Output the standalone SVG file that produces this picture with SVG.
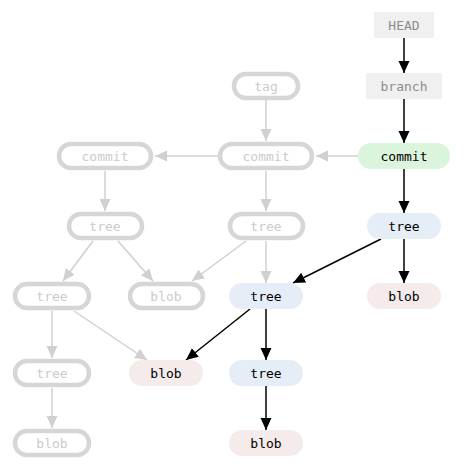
<svg xmlns="http://www.w3.org/2000/svg" width="464" height="472" viewBox="0 0 464 472">
<defs>
<style>
text{font-family:"DejaVu Sans Mono","Liberation Mono",monospace;font-size:13px;text-anchor:middle;dominant-baseline:central}
.g rect{fill:#fff;stroke:#d6d6d6;stroke-width:4.5}
.g text{fill:#cbcbcb}
.ref rect{fill:#f0f0f0}
.ref text{fill:#8c8c8c}
.cm rect{fill:#dbf5dc}
.tr rect{fill:#e5edf7}
.bl rect{fill:#f5ebea}
.k text{fill:#000}
.lk{stroke:#000;stroke-width:1.5;fill:none;marker-end:url(#ak)}
.lg{stroke:#d0d0d0;stroke-width:1.5;fill:none;marker-end:url(#ag)}
</style>
<marker id="ak" markerUnits="userSpaceOnUse" markerWidth="12" markerHeight="12" refX="12" refY="5.5" orient="auto"><path d="M0,0 L12,5.5 L0,11 z" fill="#000"/></marker>
<marker id="ag" markerUnits="userSpaceOnUse" markerWidth="12" markerHeight="12" refX="12" refY="5.5" orient="auto"><path d="M0,0 L12,5.5 L0,11 z" fill="#d0d0d0"/></marker>
</defs>
<rect width="464" height="472" fill="#fff"/>
<g id="connectors">
<line class="lk" x1="404" y1="38" x2="404" y2="73"/>
<line class="lk" x1="404" y1="99" x2="404" y2="143"/>
<line class="lk" x1="404" y1="169" x2="404" y2="213"/>
<line class="lk" x1="404" y1="239" x2="404" y2="283"/>
<line class="lk" x1="381" y1="239" x2="293" y2="283"/>
<line class="lk" x1="250" y1="309" x2="186" y2="360"/>
<line class="lk" x1="266" y1="309" x2="266" y2="360"/>
<line class="lk" x1="266" y1="386" x2="266" y2="430"/>
<line class="lg" x1="358" y1="156" x2="316" y2="156"/>
<line class="lg" x1="218" y1="156" x2="155" y2="156"/>
<line class="lg" x1="266" y1="99" x2="266" y2="141"/>
<line class="lg" x1="266" y1="171" x2="266" y2="211"/>
<line class="lg" x1="105" y1="171" x2="105" y2="211"/>
<line class="lg" x1="93" y1="241" x2="63" y2="281"/>
<line class="lg" x1="118" y1="241" x2="153" y2="281"/>
<line class="lg" x1="246" y1="241" x2="192" y2="281"/>
<line class="lg" x1="266" y1="241" x2="266" y2="283"/>
<line class="lg" x1="74" y1="311" x2="147" y2="360"/>
<line class="lg" x1="52" y1="311" x2="52" y2="358"/>
<line class="lg" x1="52" y1="388" x2="52" y2="428"/>
</g>
<g id="head" class="ref"><rect x="374" y="12" width="60" height="26"/><text x="404" y="25">HEAD</text></g>
<g id="branch" class="ref"><rect x="366" y="73" width="76" height="26"/><text x="404" y="86">branch</text></g>
<g id="commit-new" class="cm k"><rect x="358" y="143" width="92" height="26" rx="13"/><text x="404" y="156">commit</text></g>
<g id="tree-new-root" class="tr k"><rect x="367" y="213" width="74" height="26" rx="13"/><text x="404" y="226">tree</text></g>
<g id="blob-new-a" class="bl k"><rect x="367" y="283" width="74" height="26" rx="13"/><text x="404" y="296">blob</text></g>
<g id="tree-new-sub" class="tr k"><rect x="229" y="283" width="74" height="26" rx="13"/><text x="266" y="296">tree</text></g>
<g id="blob-new-b" class="bl k"><rect x="129" y="360" width="74" height="26" rx="13"/><text x="166" y="373">blob</text></g>
<g id="tree-new-sub2" class="tr k"><rect x="229" y="360" width="74" height="26" rx="13"/><text x="266" y="373">tree</text></g>
<g id="blob-new-c" class="bl k"><rect x="229" y="430" width="74" height="26" rx="13"/><text x="266" y="443">blob</text></g>
<g id="tag" class="g"><rect x="234" y="74" width="64" height="24" rx="12"/><text x="266" y="86">tag</text></g>
<g id="commit-mid" class="g"><rect x="220" y="144" width="92" height="24" rx="12"/><text x="266" y="156">commit</text></g>
<g id="commit-old" class="g"><rect x="59" y="144" width="92" height="24" rx="12"/><text x="105" y="156">commit</text></g>
<g id="tree-old-root" class="g"><rect x="69" y="214" width="73" height="24" rx="12"/><text x="105" y="226">tree</text></g>
<g id="tree-mid-root" class="g"><rect x="230" y="214" width="73" height="24" rx="12"/><text x="266" y="226">tree</text></g>
<g id="tree-old-sub" class="g"><rect x="15" y="284" width="74" height="24" rx="12"/><text x="52" y="296">tree</text></g>
<g id="blob-old" class="g"><rect x="130" y="284" width="73" height="24" rx="12"/><text x="166" y="296">blob</text></g>
<g id="tree-old-sub2" class="g"><rect x="15" y="361" width="74" height="24" rx="12"/><text x="52" y="373">tree</text></g>
<g id="blob-old-b" class="g"><rect x="15" y="431" width="74" height="24" rx="12"/><text x="52" y="443">blob</text></g>
</svg>
